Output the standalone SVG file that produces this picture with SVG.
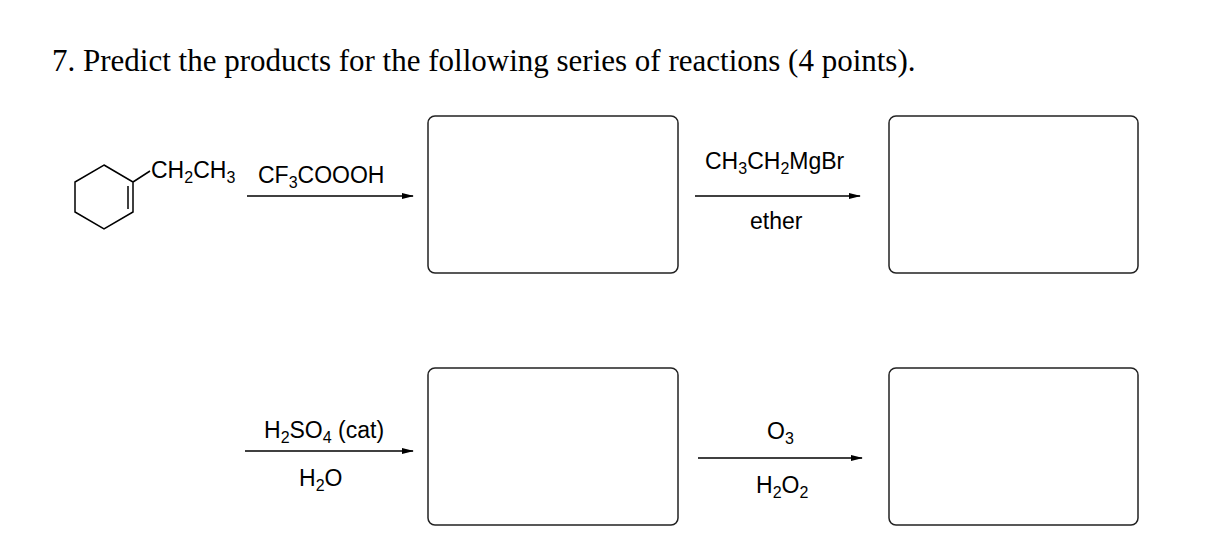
<svg xmlns="http://www.w3.org/2000/svg" width="1222" height="560" viewBox="0 0 1222 560">
<style>
.t{font-family:"Liberation Serif",serif;font-size:31px;fill:#000}
.c{font-family:"Liberation Sans",Arial,sans-serif;font-size:23px;fill:#000}
.s{font-size:16px}
.b{fill:#fff;stroke:#222;stroke-width:1.5}
.l{stroke:#000;stroke-width:1.5;fill:none}
</style>
<defs><marker id="a" markerWidth="12" markerHeight="6" refX="11" refY="3" orient="auto" markerUnits="userSpaceOnUse"><path d="M0,0L12,3L0,6z" fill="#000"/></marker></defs>
<text class="t" x="52" y="71">7. Predict the products for the following series of reactions (4 points).</text>
<g id="reactant">
<path class="l" d="M104,165L133,182L133,212L104,229L75,212L75,182Z M128,186L128,209 M133,182L150,171"/>
<text class="c" x="151" y="178">CH<tspan class="s" dy="5">2</tspan><tspan dy="-5">CH</tspan><tspan class="s" dy="5">3</tspan></text>
</g>
<g id="box1"><rect class="b" x="428" y="116" width="250" height="157" rx="7"/></g>
<g id="box2"><rect class="b" x="889" y="116" width="249" height="157" rx="7"/></g>
<g id="box3"><rect class="b" x="428" y="368" width="250" height="157" rx="7"/></g>
<g id="box4"><rect class="b" x="889" y="368" width="249" height="157" rx="7"/></g>
<g id="connectors">
<line class="l" x1="247" y1="196" x2="413" y2="196" marker-end="url(#a)"/>
<line class="l" x1="695" y1="196" x2="860" y2="196" marker-end="url(#a)"/>
<line class="l" x1="245" y1="451" x2="413" y2="451" marker-end="url(#a)"/>
<line class="l" x1="698" y1="458" x2="862" y2="458" marker-end="url(#a)"/>
</g>
<g id="labels">
<text class="c" x="258" y="183">CF<tspan class="s" dy="5">3</tspan><tspan dy="-5">COOOH</tspan></text>
<text class="c" x="705" y="169">CH<tspan class="s" dy="5">3</tspan><tspan dy="-5">CH</tspan><tspan class="s" dy="5">2</tspan><tspan dy="-5">MgBr</tspan></text>
<text class="c" x="750" y="229">ether</text>
<text class="c" x="264" y="438">H<tspan class="s" dy="5">2</tspan><tspan dy="-5">SO</tspan><tspan class="s" dy="5">4</tspan><tspan dy="-5"> (cat)</tspan></text>
<text class="c" x="299" y="486">H<tspan class="s" dy="5">2</tspan><tspan dy="-5">O</tspan></text>
<text class="c" x="767" y="439">O<tspan class="s" dy="5">3</tspan></text>
<text class="c" x="756" y="493">H<tspan class="s" dy="5">2</tspan><tspan dy="-5">O</tspan><tspan class="s" dy="5">2</tspan></text>
</g>
</svg>
